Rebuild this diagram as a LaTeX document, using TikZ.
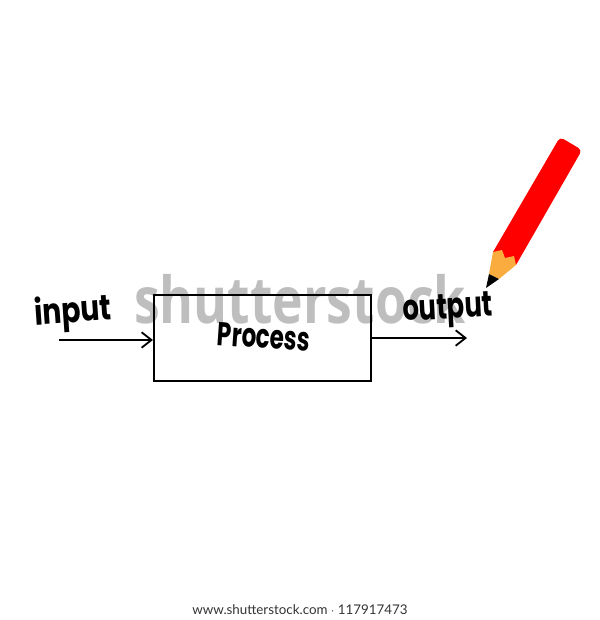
\documentclass[tikz,border=0pt]{standalone}
\usepackage{fontspec}
\setmainfont{Poppins}
\newfontfamily\markfont{Open Sans}
\newfontfamily\footfont{Lato}
\usetikzlibrary{arrows.meta}
\definecolor{pencilred}{RGB}{255,0,0}
\definecolor{pencilwood}{RGB}{251,172,62}
\definecolor{markgray}{RGB}{190,190,190}
\tikzset{
  handtext/.style={font=\fontsize{21}{21}\selectfont\bfseries, inner sep=0pt},
  flowline/.style={line width=1.5pt, -{Straight Barb[length=7pt,width=11pt,line width=1.3pt]}},
  processbox/.style={draw, line width=1.5pt, minimum width=217*0.025cm, minimum height=86*0.025cm, inner sep=0pt}
}
\begin{document}
\begin{tikzpicture}[x=0.025cm, y=-0.025cm]
      \useasboundingbox (0, 0) rectangle (600, 620);
      \node[inner sep=0pt, text=markgray, xscale=0.8] (mark) at (300, 299){\markfont\bfseries\fontsize{46}{46}\selectfont shutterstock};

      \node[processbox] (process) at (262.5, 338){};
      \node[handtext, rotate=-4, xscale=0.78, yscale=1.12] (processlabel) at (264, 337){Process};

      \coordinate (instart) at (59, 340);
      \coordinate (outend) at (467, 338);
      \draw[flowline] (instart) to (instart -| process.west);
      \draw[flowline] (outend -| process.east) to (outend);

      \node[handtext, rotate=4, xscale=0.96, yscale=1.2] (inputlabel) at (73, 313){input};
      \node[handtext, rotate=3, xscale=0.88, yscale=1.2] (outputlabel) at (448, 311){output};

      % pencil
      \fill[pencilred] (493, 252) [rounded corners=3pt] -- (560, 137) -- (582, 150) [sharp corners] -- (516, 265) -- (505, 258) -- cycle;
      \fill[pencilwood] (493, 252) -- (502, 250) -- (505, 258) -- (514, 256) -- (516, 265) -- (499, 279) -- (489, 274) -- cycle;
      \fill[black] (489, 274) -- (499, 279) -- (486, 288) -- cycle;

      \node[inner sep=0pt, text=black!80] (footer) at (300, 610){\footfont\fontsize{9.5}{9.5}\selectfont www.shutterstock.com $\cdot$ 117917473};
\end{tikzpicture}
\end{document}
